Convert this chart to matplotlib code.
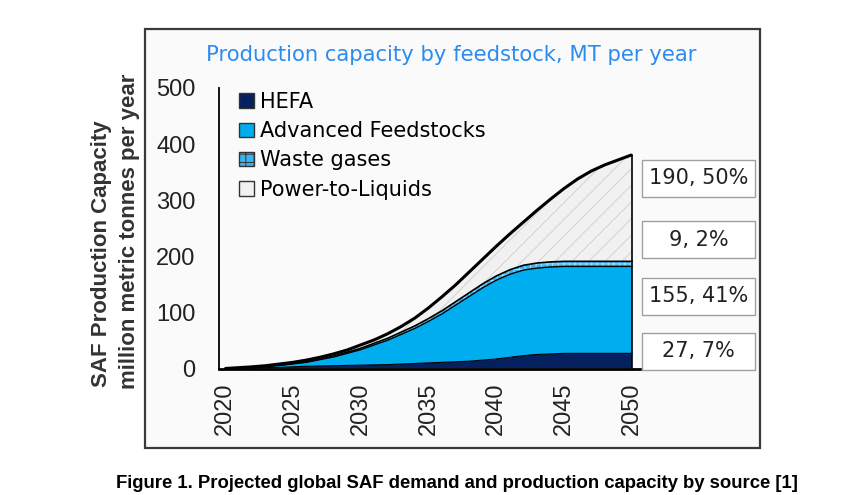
import numpy as np
import matplotlib
matplotlib.use("Agg")
import matplotlib.pyplot as plt
from matplotlib.patches import Rectangle, Patch

plt.rcParams["hatch.linewidth"] = 0.7

# data, MT per year
years = list(range(2020, 2051))
hefa = [0, 0.5, 1, 1.5, 2, 3, 4, 4.5, 5, 5.5, 6, 6.5, 7, 8, 9, 10, 11, 12, 13, 15,
        17, 20, 23, 25, 26, 27, 27, 27, 27, 27, 27]
advanced = [0, 0.3, 0.7, 2.1, 3.4, 5.2, 7, 11.3, 15.5, 21.5, 27.5, 35.5, 43.5, 53, 62.5, 74,
            86.5, 101, 115.5, 129, 140.5, 148, 152.5, 154, 155, 155, 155, 155, 155, 155, 155]
waste = [0, 0.2, 0.3, 0.4, 0.6, 0.8, 1, 1.2, 1.5, 2, 2.5, 3, 3.5, 4, 4.5, 5, 5.5, 6, 6.5, 7,
         7.5, 8, 8.5, 9, 9, 9, 9, 9, 9, 9, 9]
ptl = [0, 0.5, 1, 1, 2, 2, 3, 3, 4, 4, 6, 6, 8, 10, 14, 19, 25, 30, 37, 44,
       53, 64, 77, 94, 112, 130, 147, 161, 172, 181, 190]
series_names = ["HEFA", "Advanced Feedstocks", "Waste gases", "Power-to-Liquids"]
end_labels = ["190, 50%", "9, 2%", "155, 41%", "27, 7%"]
xticks = [2020, 2025, 2030, 2035, 2040, 2045, 2050]
yticks = [0, 100, 200, 300, 400, 500]

W, H = 844, 495
fig = plt.figure(figsize=(W / 100, H / 100), dpi=100)


def px(x, y):
    # pixel (from top-left) -> figure fraction
    return x / W, 1 - y / H


# panel frame
x0, y0 = px(145, 448)
fig.patches.append(Rectangle((x0, y0), 615 / W, 419 / H, transform=fig.transFigure,
                             facecolor="#fafafa", edgecolor="#3a3a3a", lw=1.6, zorder=-5))

ax = fig.add_axes([219 / W, 1 - 368.5 / H, 421 / W, 280.5 / H])
ax.set_zorder(1)
ax.patch.set_alpha(0)

x = np.array(years)
l1 = np.array(hefa)
l2 = l1 + np.array(advanced)
l3 = l2 + np.array(waste)
l4 = l3 + np.array(ptl)

c_hefa = "#04205e"
c_adv = "#00aeef"
c_waste = "#38b4f2"
c_ptl = "#f1f1f1"

ax.fill_between(x, 0, l1, facecolor=c_hefa, lw=0)
ax.fill_between(x, l1, l2, facecolor=c_adv, lw=0)
ax.fill_between(x, l2, l3, facecolor=c_waste, edgecolor="#a5dcfa", hatch="+++", lw=0)
ax.fill_between(x, l3, l4, facecolor=c_ptl, edgecolor="#d2d2d2", hatch="//", lw=0)
ax.plot(x, l1, color="black", lw=0.8)
ax.plot(x, l2, color="black", lw=1.0)
ax.plot(x, l3, color="black", lw=1.2)
ax.plot(x, l4, color="black", lw=2.2, solid_capstyle="butt")
ax.plot([x[-1], x[-1]], [0, l4[-1]], color="black", lw=1.2)

ax.set_xlim(2019.56, 2050.59)
ax.set_ylim(0, 500)
ax.set_xticks(xticks)
ax.set_yticks(yticks)
ax.tick_params(length=0)
ax.tick_params(axis="y", pad=17)
ax.tick_params(axis="x", pad=10)
for lab in ax.get_yticklabels():
    lab.set_fontfamily("Liberation Sans")
    lab.set_fontsize(17)
    lab.set_color("#222222")
for lab in ax.get_xticklabels():
    lab.set_fontfamily("Liberation Sans")
    lab.set_fontsize(17)
    lab.set_rotation(90)
    lab.set_color("#222222")
for s in ["top", "right"]:
    ax.spines[s].set_visible(False)
ax.spines["left"].set_linewidth(1.3)
ax.spines["bottom"].set_linewidth(2.0)

# title
tx, ty = px(451, 55)
fig.text(tx, ty, "Production capacity by feedstock, MT per year", color="#2a8cf0",
         fontsize=15.2, ha="center", va="center", family="DejaVu Sans")

# legend
handles = [Patch(facecolor=c_hefa, edgecolor="#333333"),
           Patch(facecolor=c_adv, edgecolor="#333333"),
           Patch(facecolor=c_waste, edgecolor="#333333", hatch="++"),
           Patch(facecolor=c_ptl, edgecolor="#333333")]
lx, ly = px(239, 92)
fig.legend(handles, series_names, loc="upper left", bbox_to_anchor=(lx, ly),
           frameon=False, handlelength=0.7, handleheight=0.7, handletextpad=0.3,
           labelspacing=0.44, borderpad=0, borderaxespad=0,
           prop={"family": "DejaVu Sans", "size": 15})

# end-of-series boxes
box_centers = [178.5, 239.5, 296, 351]
for lab, cy in zip(end_labels, box_centers):
    bx, by = px(642, cy + 18.5)
    fig.patches.append(Rectangle((bx, by), 113 / W, 37 / H, transform=fig.transFigure,
                                 facecolor="white", edgecolor="#a0a0a0", lw=1.0, zorder=2))
    cx, cyf = px(698.5, cy)
    fig.text(cx, cyf, lab, ha="center", va="center", fontsize=15,
             family="DejaVu Sans", color="#222222", zorder=3)

# y label outside panel
fig.text(*px(102, 254), "SAF Production Capacity", rotation=90, ha="center", va="center",
         fontsize=16, fontweight="bold", family="Liberation Sans", color="#333333")
fig.text(*px(130, 231), "million metric tonnes per year", rotation=90, ha="center",
         va="center", fontsize=16, fontweight="bold", family="Liberation Sans",
         color="#333333")

# caption
fig.text(*px(457, 483), "Figure 1. Projected global SAF demand and production capacity by source [1]",
         ha="center", va="center", fontsize=13.3, fontweight="bold", family="Liberation Sans")

fig.savefig("out.png", dpi=100)
